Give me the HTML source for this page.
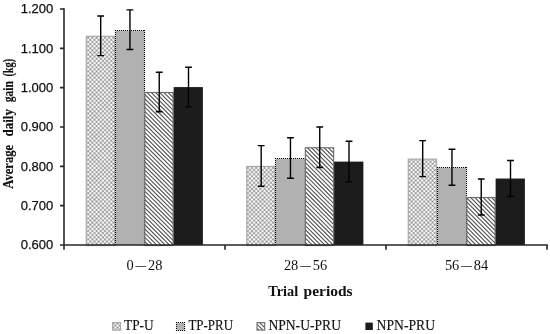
<!DOCTYPE html>
<html><head><meta charset="utf-8"><title>Average daily gain by trial period</title>
<style>html,body{margin:0;padding:0;background:#fff}body{width:550px;height:334px;overflow:hidden}svg{display:block}.t{font-family:"Liberation Sans",Arial,sans-serif;font-size:13px;fill:#111;stroke:#111;stroke-width:0.25px}.s{font-family:"Liberation Serif","Times New Roman",serif;fill:#111}</style></head><body>
<svg width="550" height="334" viewBox="0 0 550 334">
<rect width="550" height="334" fill="#fff"/>
<rect x="86.30" y="36.33" width="28.27" height="209.17" fill="#fff"/>
<clipPath id="c1"><rect x="86.30" y="36.33" width="28.27" height="209.17"/></clipPath>
<path clip-path="url(#c1)" d="M85.3,5.5L115.6,35.8M85.3,9.7L115.6,40.0M85.3,13.9L115.6,44.2M85.3,18.1L115.6,48.4M85.3,22.3L115.6,52.6M85.3,26.5L115.6,56.8M85.3,30.7L115.6,61.0M85.3,34.9L115.6,65.2M85.3,39.1L115.6,69.4M85.3,43.3L115.6,73.6M85.3,47.5L115.6,77.8M85.3,51.7L115.6,82.0M85.3,55.9L115.6,86.2M85.3,60.1L115.6,90.4M85.3,64.3L115.6,94.6M85.3,68.5L115.6,98.8M85.3,72.7L115.6,103.0M85.3,76.9L115.6,107.2M85.3,81.1L115.6,111.4M85.3,85.3L115.6,115.6M85.3,89.5L115.6,119.8M85.3,93.7L115.6,124.0M85.3,97.9L115.6,128.2M85.3,102.1L115.6,132.4M85.3,106.3L115.6,136.6M85.3,110.5L115.6,140.8M85.3,114.7L115.6,145.0M85.3,118.9L115.6,149.2M85.3,123.1L115.6,153.4M85.3,127.3L115.6,157.6M85.3,131.5L115.6,161.8M85.3,135.7L115.6,166.0M85.3,139.9L115.6,170.2M85.3,144.1L115.6,174.4M85.3,148.3L115.6,178.6M85.3,152.5L115.6,182.8M85.3,156.7L115.6,187.0M85.3,160.9L115.6,191.2M85.3,165.1L115.6,195.4M85.3,169.3L115.6,199.6M85.3,173.5L115.6,203.8M85.3,177.7L115.6,208.0M85.3,181.9L115.6,212.2M85.3,186.1L115.6,216.4M85.3,190.3L115.6,220.6M85.3,194.5L115.6,224.8M85.3,198.7L115.6,229.0M85.3,202.9L115.6,233.2M85.3,207.1L115.6,237.4M85.3,211.3L115.6,241.6M85.3,215.5L115.6,245.8M85.3,219.7L115.6,250.0M85.3,223.9L115.6,254.2M85.3,228.1L115.6,258.4M85.3,232.3L115.6,262.6M85.3,236.5L115.6,266.8M85.3,240.7L115.6,271.0M85.3,244.9L115.6,275.2" stroke="#000" stroke-opacity="0.245" stroke-width="1.3" fill="none"/>
<path clip-path="url(#c1)" d="M85.3,36.5L115.6,6.2M85.3,40.7L115.6,10.4M85.3,44.9L115.6,14.6M85.3,49.1L115.6,18.8M85.3,53.3L115.6,23.0M85.3,57.5L115.6,27.2M85.3,61.7L115.6,31.4M85.3,65.9L115.6,35.6M85.3,70.1L115.6,39.8M85.3,74.3L115.6,44.0M85.3,78.5L115.6,48.2M85.3,82.7L115.6,52.4M85.3,86.9L115.6,56.6M85.3,91.1L115.6,60.8M85.3,95.3L115.6,65.0M85.3,99.5L115.6,69.2M85.3,103.7L115.6,73.4M85.3,107.9L115.6,77.6M85.3,112.1L115.6,81.8M85.3,116.3L115.6,86.0M85.3,120.5L115.6,90.2M85.3,124.7L115.6,94.4M85.3,128.9L115.6,98.6M85.3,133.1L115.6,102.8M85.3,137.3L115.6,107.0M85.3,141.5L115.6,111.2M85.3,145.7L115.6,115.4M85.3,149.9L115.6,119.6M85.3,154.1L115.6,123.8M85.3,158.3L115.6,128.0M85.3,162.5L115.6,132.2M85.3,166.7L115.6,136.4M85.3,170.9L115.6,140.6M85.3,175.1L115.6,144.8M85.3,179.3L115.6,149.0M85.3,183.5L115.6,153.2M85.3,187.7L115.6,157.4M85.3,191.9L115.6,161.6M85.3,196.1L115.6,165.8M85.3,200.3L115.6,170.0M85.3,204.5L115.6,174.2M85.3,208.7L115.6,178.4M85.3,212.9L115.6,182.6M85.3,217.1L115.6,186.8M85.3,221.3L115.6,191.0M85.3,225.5L115.6,195.2M85.3,229.7L115.6,199.4M85.3,233.9L115.6,203.6M85.3,238.1L115.6,207.8M85.3,242.3L115.6,212.0M85.3,246.5L115.6,216.2M85.3,250.7L115.6,220.4M85.3,254.9L115.6,224.6M85.3,259.1L115.6,228.8M85.3,263.3L115.6,233.0M85.3,267.5L115.6,237.2M85.3,271.7L115.6,241.4M85.3,275.9L115.6,245.6" stroke="#000" stroke-opacity="0.245" stroke-width="1.3" fill="none"/>
<rect x="86.30" y="36.33" width="28.27" height="209.17" fill="none" stroke="#aaa" stroke-width="1.2"/>
<rect x="115.50" y="30.50" width="29.00" height="214.50" fill="#b1b1b1"/>
<path d="M115.0,30.5H145.0M115.5,30.0V245.0M144.5,30.0V245.0" fill="none" stroke="#000" stroke-width="1.1" stroke-dasharray="1 1"/>
<rect x="144.85" y="92.49" width="28.27" height="153.01" fill="#fff"/>
<clipPath id="c2"><rect x="144.85" y="92.49" width="28.27" height="153.01"/></clipPath>
<path clip-path="url(#c2)" d="M143.8,59.8L174.1,90.1M143.8,64.0L174.1,94.3M143.8,68.2L174.1,98.5M143.8,72.5L174.1,102.7M143.8,76.7L174.1,106.9M143.8,80.9L174.1,111.1M143.8,85.1L174.1,115.3M143.8,89.3L174.1,119.5M143.8,93.5L174.1,123.7M143.8,97.7L174.1,127.9M143.8,101.9L174.1,132.1M143.8,106.1L174.1,136.3M143.8,110.3L174.1,140.5M143.8,114.5L174.1,144.7M143.8,118.7L174.1,148.9M143.8,122.9L174.1,153.1M143.8,127.1L174.1,157.3M143.8,131.3L174.1,161.5M143.8,135.5L174.1,165.7M143.8,139.7L174.1,169.9M143.8,143.9L174.1,174.1M143.8,148.1L174.1,178.3M143.8,152.3L174.1,182.5M143.8,156.5L174.1,186.7M143.8,160.7L174.1,190.9M143.8,164.9L174.1,195.1M143.8,169.1L174.1,199.3M143.8,173.3L174.1,203.5M143.8,177.5L174.1,207.7M143.8,181.7L174.1,211.9M143.8,185.9L174.1,216.1M143.8,190.1L174.1,220.3M143.8,194.3L174.1,224.5M143.8,198.5L174.1,228.7M143.8,202.7L174.1,232.9M143.8,206.9L174.1,237.1M143.8,211.1L174.1,241.3M143.8,215.3L174.1,245.5M143.8,219.5L174.1,249.7M143.8,223.7L174.1,253.9M143.8,227.9L174.1,258.1M143.8,232.1L174.1,262.3M143.8,236.3L174.1,266.5M143.8,240.5L174.1,270.7M143.8,244.7L174.1,274.9" stroke="#555" stroke-opacity="1" stroke-width="1.15" fill="none"/>
<rect x="144.85" y="92.49" width="28.27" height="153.01" fill="none" stroke="#6e6e6e" stroke-width="1.15"/>
<rect x="173.62" y="87.08" width="29.27" height="157.92" fill="#1c1c1c"/>
<rect x="246.80" y="166.44" width="28.27" height="79.06" fill="#fff"/>
<clipPath id="c3"><rect x="246.80" y="166.44" width="28.27" height="79.06"/></clipPath>
<path clip-path="url(#c3)" d="M245.8,136.6L276.1,166.9M245.8,140.8L276.1,171.1M245.8,145.0L276.1,175.3M245.8,149.2L276.1,179.5M245.8,153.4L276.1,183.7M245.8,157.6L276.1,187.9M245.8,161.8L276.1,192.1M245.8,166.0L276.1,196.3M245.8,170.2L276.1,200.5M245.8,174.4L276.1,204.7M245.8,178.6L276.1,208.9M245.8,182.8L276.1,213.1M245.8,187.0L276.1,217.3M245.8,191.2L276.1,221.5M245.8,195.4L276.1,225.7M245.8,199.6L276.1,229.9M245.8,203.8L276.1,234.1M245.8,208.0L276.1,238.3M245.8,212.2L276.1,242.5M245.8,216.4L276.1,246.7M245.8,220.6L276.1,250.9M245.8,224.8L276.1,255.1M245.8,229.0L276.1,259.3M245.8,233.2L276.1,263.5M245.8,237.4L276.1,267.7M245.8,241.6L276.1,271.9M245.8,245.8L276.1,276.1" stroke="#000" stroke-opacity="0.245" stroke-width="1.3" fill="none"/>
<path clip-path="url(#c3)" d="M245.8,165.8L276.1,135.5M245.8,170.0L276.1,139.7M245.8,174.2L276.1,143.9M245.8,178.4L276.1,148.1M245.8,182.6L276.1,152.3M245.8,186.8L276.1,156.5M245.8,191.0L276.1,160.7M245.8,195.2L276.1,164.9M245.8,199.4L276.1,169.1M245.8,203.6L276.1,173.3M245.8,207.8L276.1,177.5M245.8,212.0L276.1,181.7M245.8,216.2L276.1,185.9M245.8,220.4L276.1,190.1M245.8,224.6L276.1,194.3M245.8,228.8L276.1,198.5M245.8,233.0L276.1,202.7M245.8,237.2L276.1,206.9M245.8,241.4L276.1,211.1M245.8,245.6L276.1,215.3M245.8,249.8L276.1,219.5M245.8,254.0L276.1,223.7M245.8,258.2L276.1,227.9M245.8,262.4L276.1,232.1M245.8,266.6L276.1,236.3M245.8,270.8L276.1,240.5M245.8,275.0L276.1,244.7" stroke="#000" stroke-opacity="0.245" stroke-width="1.3" fill="none"/>
<rect x="246.80" y="166.44" width="28.27" height="79.06" fill="none" stroke="#aaa" stroke-width="1.2"/>
<rect x="275.50" y="158.50" width="30.00" height="86.50" fill="#b1b1b1"/>
<path d="M275.0,158.5H306.0M275.5,158.0V245.0M305.5,158.0V245.0" fill="none" stroke="#000" stroke-width="1.1" stroke-dasharray="1 1"/>
<rect x="305.35" y="147.76" width="28.27" height="97.74" fill="#fff"/>
<clipPath id="c4"><rect x="305.35" y="147.76" width="28.27" height="97.74"/></clipPath>
<path clip-path="url(#c4)" d="M304.3,115.3L334.6,145.6M304.3,119.5L334.6,149.8M304.3,123.7L334.6,154.0M304.3,127.9L334.6,158.2M304.3,132.1L334.6,162.4M304.3,136.3L334.6,166.6M304.3,140.5L334.6,170.8M304.3,144.7L334.6,175.0M304.3,148.9L334.6,179.2M304.3,153.1L334.6,183.4M304.3,157.3L334.6,187.6M304.3,161.5L334.6,191.8M304.3,165.7L334.6,196.0M304.3,169.9L334.6,200.2M304.3,174.1L334.6,204.4M304.3,178.3L334.6,208.6M304.3,182.5L334.6,212.8M304.3,186.7L334.6,217.0M304.3,190.9L334.6,221.2M304.3,195.1L334.6,225.4M304.3,199.3L334.6,229.6M304.3,203.5L334.6,233.8M304.3,207.7L334.6,238.0M304.3,211.9L334.6,242.2M304.3,216.1L334.6,246.4M304.3,220.3L334.6,250.6M304.3,224.5L334.6,254.8M304.3,228.7L334.6,259.0M304.3,232.9L334.6,263.2M304.3,237.1L334.6,267.4M304.3,241.3L334.6,271.6M304.3,245.5L334.6,275.8" stroke="#555" stroke-opacity="1" stroke-width="1.15" fill="none"/>
<rect x="305.35" y="147.76" width="28.27" height="97.74" fill="none" stroke="#6e6e6e" stroke-width="1.15"/>
<rect x="334.12" y="161.61" width="29.27" height="83.39" fill="#1c1c1c"/>
<rect x="408.30" y="159.16" width="28.27" height="86.34" fill="#fff"/>
<clipPath id="c5"><rect x="408.30" y="159.16" width="28.27" height="86.34"/></clipPath>
<path clip-path="url(#c5)" d="M407.3,125.9L437.6,156.2M407.3,130.1L437.6,160.4M407.3,134.3L437.6,164.6M407.3,138.5L437.6,168.8M407.3,142.7L437.6,173.0M407.3,146.9L437.6,177.2M407.3,151.1L437.6,181.4M407.3,155.3L437.6,185.6M407.3,159.5L437.6,189.8M407.3,163.7L437.6,194.0M407.3,167.9L437.6,198.2M407.3,172.1L437.6,202.4M407.3,176.3L437.6,206.6M407.3,180.5L437.6,210.8M407.3,184.7L437.6,215.0M407.3,188.9L437.6,219.2M407.3,193.1L437.6,223.4M407.3,197.3L437.6,227.6M407.3,201.5L437.6,231.8M407.3,205.7L437.6,236.0M407.3,209.9L437.6,240.2M407.3,214.1L437.6,244.4M407.3,218.3L437.6,248.6M407.3,222.5L437.6,252.8M407.3,226.7L437.6,257.0M407.3,230.9L437.6,261.2M407.3,235.1L437.6,265.4M407.3,239.3L437.6,269.6M407.3,243.5L437.6,273.8M407.3,247.7L437.6,278.0" stroke="#000" stroke-opacity="0.245" stroke-width="1.3" fill="none"/>
<path clip-path="url(#c5)" d="M407.3,159.7L437.6,129.4M407.3,163.9L437.6,133.6M407.3,168.1L437.6,137.8M407.3,172.3L437.6,142.0M407.3,176.5L437.6,146.2M407.3,180.7L437.6,150.4M407.3,184.9L437.6,154.6M407.3,189.1L437.6,158.8M407.3,193.3L437.6,163.0M407.3,197.5L437.6,167.2M407.3,201.7L437.6,171.4M407.3,205.9L437.6,175.6M407.3,210.1L437.6,179.8M407.3,214.3L437.6,184.0M407.3,218.5L437.6,188.2M407.3,222.7L437.6,192.4M407.3,226.9L437.6,196.6M407.3,231.1L437.6,200.8M407.3,235.3L437.6,205.0M407.3,239.5L437.6,209.2M407.3,243.7L437.6,213.4M407.3,247.9L437.6,217.6M407.3,252.1L437.6,221.8M407.3,256.3L437.6,226.0M407.3,260.5L437.6,230.2M407.3,264.7L437.6,234.4M407.3,268.9L437.6,238.6M407.3,273.1L437.6,242.8M407.3,277.3L437.6,247.0" stroke="#000" stroke-opacity="0.245" stroke-width="1.3" fill="none"/>
<rect x="408.30" y="159.16" width="28.27" height="86.34" fill="none" stroke="#aaa" stroke-width="1.2"/>
<rect x="437.50" y="167.50" width="29.00" height="77.50" fill="#b1b1b1"/>
<path d="M437.0,167.5H467.0M437.5,167.0V245.0M466.5,167.0V245.0" fill="none" stroke="#000" stroke-width="1.1" stroke-dasharray="1 1"/>
<rect x="466.85" y="197.51" width="28.27" height="47.99" fill="#fff"/>
<clipPath id="c6"><rect x="466.85" y="197.51" width="28.27" height="47.99"/></clipPath>
<path clip-path="url(#c6)" d="M465.9,167.7L496.1,197.9M465.9,171.9L496.1,202.1M465.9,176.1L496.1,206.3M465.9,180.2L496.1,210.5M465.9,184.4L496.1,214.7M465.9,188.6L496.1,218.9M465.9,192.8L496.1,223.1M465.9,197.0L496.1,227.3M465.9,201.2L496.1,231.5M465.9,205.4L496.1,235.7M465.9,209.6L496.1,239.9M465.9,213.8L496.1,244.1M465.9,218.0L496.1,248.3M465.9,222.2L496.1,252.5M465.9,226.4L496.1,256.7M465.9,230.6L496.1,260.9M465.9,234.8L496.1,265.1M465.9,239.0L496.1,269.3M465.9,243.2L496.1,273.5M465.9,247.4L496.1,277.7" stroke="#555" stroke-opacity="1" stroke-width="1.15" fill="none"/>
<rect x="466.85" y="197.51" width="28.27" height="47.99" fill="none" stroke="#6e6e6e" stroke-width="1.15"/>
<rect x="495.62" y="178.53" width="29.27" height="66.47" fill="#1c1c1c"/>
<path d="M100.69,16.03V55.63M97.29,16.03h6.8M97.29,55.63h6.8" stroke="#000" stroke-width="1.4" fill="none"/>
<path d="M129.96,9.89V49.49M126.56,9.89h6.8M126.56,49.49h6.8" stroke="#000" stroke-width="1.4" fill="none"/>
<path d="M159.24,72.19V111.79M155.84,72.19h6.8M155.84,111.79h6.8" stroke="#000" stroke-width="1.4" fill="none"/>
<path d="M188.51,67.28V106.88M185.11,67.28h6.8M185.11,106.88h6.8" stroke="#000" stroke-width="1.4" fill="none"/>
<path d="M261.19,145.64V186.24M257.79,145.64h6.8M257.79,186.24h6.8" stroke="#000" stroke-width="1.4" fill="none"/>
<path d="M290.46,137.69V178.29M287.06,137.69h6.8M287.06,178.29h6.8" stroke="#000" stroke-width="1.4" fill="none"/>
<path d="M319.74,126.96V167.56M316.34,126.96h6.8M316.34,167.56h6.8" stroke="#000" stroke-width="1.4" fill="none"/>
<path d="M349.01,141.31V181.91M345.61,141.31h6.8M345.61,181.91h6.8" stroke="#000" stroke-width="1.4" fill="none"/>
<path d="M422.69,140.66V176.66M419.29,140.66h6.8M419.29,176.66h6.8" stroke="#000" stroke-width="1.4" fill="none"/>
<path d="M451.96,149.32V185.32M448.56,149.32h6.8M448.56,185.32h6.8" stroke="#000" stroke-width="1.4" fill="none"/>
<path d="M481.24,179.01V215.01M477.84,179.01h6.8M477.84,215.01h6.8" stroke="#000" stroke-width="1.4" fill="none"/>
<path d="M510.51,160.53V196.53M507.11,160.53h6.8M507.11,196.53h6.8" stroke="#000" stroke-width="1.4" fill="none"/>
<path d="M64.00,8.20V249.80" stroke="#262626" stroke-width="1.6" fill="none"/>
<path d="M60.00,245.00H547.80" stroke="#262626" stroke-width="1.7" fill="none"/>
<path d="M60.00,9.00H64.00M60.00,48.33H64.00M60.00,87.67H64.00M60.00,127.00H64.00M60.00,166.33H64.00M60.00,205.67H64.00M225.00,245.00V249.80M386.00,245.00V249.80M547.00,245.00V249.80" stroke="#262626" stroke-width="1.6" fill="none"/>
<text class="t" x="53.3" y="13.20" text-anchor="end">1.200</text>
<text class="t" x="53.3" y="52.53" text-anchor="end">1.100</text>
<text class="t" x="53.3" y="91.87" text-anchor="end">1.000</text>
<text class="t" x="53.3" y="131.20" text-anchor="end">0.900</text>
<text class="t" x="53.3" y="170.53" text-anchor="end">0.800</text>
<text class="t" x="53.3" y="209.87" text-anchor="end">0.700</text>
<text class="t" x="53.3" y="249.20" text-anchor="end">0.600</text>
<text class="s" y="270.4" font-size="14.4"><tspan x="126.50">0</tspan><tspan x="135.60" textLength="10.6" lengthAdjust="spacingAndGlyphs">—</tspan><tspan x="148.10">28</tspan></text>
<text class="s" y="270.4" font-size="14.4"><tspan x="283.90">28</tspan><tspan x="300.20" textLength="10.6" lengthAdjust="spacingAndGlyphs">—</tspan><tspan x="312.70">56</tspan></text>
<text class="s" y="270.4" font-size="14.4"><tspan x="444.90">56</tspan><tspan x="461.20" textLength="10.6" lengthAdjust="spacingAndGlyphs">—</tspan><tspan x="473.70">84</tspan></text>
<text class="s" x="268.2" y="296" font-size="14.4" font-weight="bold" textLength="30" lengthAdjust="spacingAndGlyphs">Trial</text>
<text class="s" x="303.6" y="296" font-size="14.4" font-weight="bold" textLength="49" lengthAdjust="spacingAndGlyphs">periods</text>
<g transform="translate(13.4,0) rotate(-90)" class="s" font-size="13.6" font-weight="bold" stroke="#111" stroke-width="0.15">
<text x="-188.7" y="0" textLength="43.8" lengthAdjust="spacingAndGlyphs">Average</text>
<text x="-136.4" y="0" textLength="27.3" lengthAdjust="spacingAndGlyphs">daily</text>
<text x="-102.2" y="0" textLength="21.0" lengthAdjust="spacingAndGlyphs">gain</text>
<text x="-76.6" y="0" textLength="17.8" lengthAdjust="spacingAndGlyphs">(kg)</text>
</g>
<rect x="112.6" y="322.6" width="7.9" height="7.5" fill="#fff"/>
<clipPath id="c7"><rect x="112.60" y="322.60" width="7.90" height="7.50"/></clipPath>
<path clip-path="url(#c7)" d="M111.6,313.2L121.5,323.1M111.6,317.4L121.5,327.3M111.6,321.6L121.5,331.5M111.6,325.8L121.5,335.7M111.6,330.0L121.5,339.9" stroke="#000" stroke-opacity="0.245" stroke-width="1.3" fill="none"/>
<path clip-path="url(#c7)" d="M111.6,321.0L121.5,311.1M111.6,325.2L121.5,315.3M111.6,329.4L121.5,319.5M111.6,333.6L121.5,323.7M111.6,337.8L121.5,327.9M111.6,342.0L121.5,332.1" stroke="#000" stroke-opacity="0.245" stroke-width="1.3" fill="none"/>
<rect x="112.6" y="322.6" width="7.9" height="7.5" fill="none" stroke="#aaa" stroke-width="1.2"/>
<text class="s" x="124" y="329.8" font-size="14.5" stroke="#111" stroke-width="0.15" textLength="29.6" lengthAdjust="spacingAndGlyphs">TP-U</text>
<rect x="176.5" y="322.5" width="8" height="8" fill="#b1b1b1"/>
<path d="M176,322.5H185M184.5,322V331M185,330.5H176M176.5,331V322" fill="none" stroke="#000" stroke-width="1.1" stroke-dasharray="1 1"/>
<text class="s" x="188.4" y="329.8" font-size="14.5" stroke="#111" stroke-width="0.15" textLength="44.6" lengthAdjust="spacingAndGlyphs">TP-PRU</text>
<rect x="257" y="322.6" width="7.7" height="7.5" fill="#fff"/>
<clipPath id="c8"><rect x="257.00" y="322.60" width="7.70" height="7.50"/></clipPath>
<path clip-path="url(#c8)" d="M256.0,310.6L265.7,320.3M256.0,314.8L265.7,324.5M256.0,319.0L265.7,328.7M256.0,323.2L265.7,332.9M256.0,327.4L265.7,337.1M256.0,331.6L265.7,341.3" stroke="#555" stroke-opacity="1" stroke-width="1.15" fill="none"/>
<rect x="257" y="322.6" width="7.7" height="7.5" fill="none" stroke="#6e6e6e" stroke-width="1.1"/>
<text class="s" x="268.4" y="329.8" font-size="14.5" stroke="#111" stroke-width="0.15" textLength="72.6" lengthAdjust="spacingAndGlyphs">NPN-U-PRU</text>
<rect x="365.4" y="322.6" width="7.4" height="7.4" fill="#1c1c1c"/>
<text class="s" x="376.6" y="329.8" font-size="14.5" stroke="#111" stroke-width="0.15" textLength="58.4" lengthAdjust="spacingAndGlyphs">NPN-PRU</text>
</svg></body></html>
